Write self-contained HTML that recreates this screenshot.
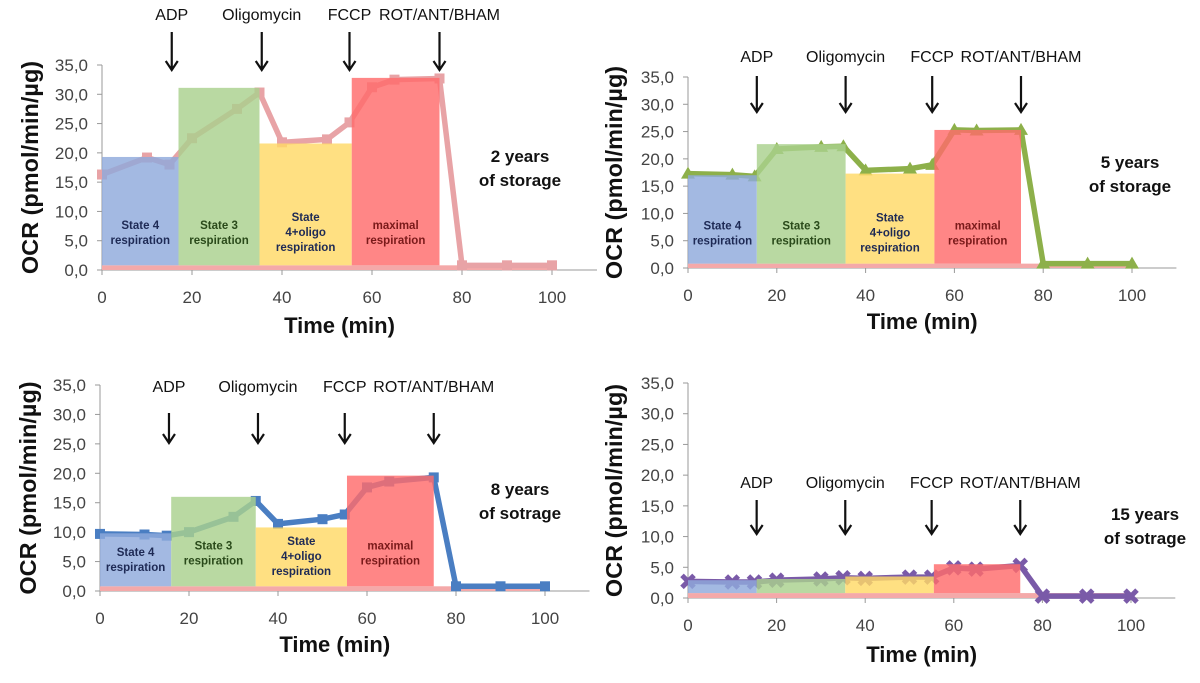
<!DOCTYPE html>
<html><head><meta charset="utf-8"><style>
html,body{margin:0;padding:0;background:#fff;}
svg text{font-family:"Liberation Sans",Arial,sans-serif;}
</style></head><body>
<svg id="fig" width="1200" height="678" viewBox="0 0 1200 678" xmlns="http://www.w3.org/2000/svg"></svg>
<script>
// ---- data ----
const times = [0,10,15,20,30,35,40,50,55,60,65,75,80,90,100];
const ocr2y = [16.3,19.2,18.0,22.5,27.5,30.3,21.8,22.3,25.2,31.2,32.5,32.7,0.8,0.8,0.8];
const ocr5y = [17.3,17.1,16.8,21.8,22.2,22.3,17.9,18.2,18.9,25.3,25.2,25.3,0.8,0.8,0.8];
const ocr8y = [9.7,9.6,9.4,10.0,12.6,15.3,11.4,12.2,13.0,17.6,18.6,19.3,0.8,0.8,0.8];
const ocr15y = [2.7,2.6,2.6,2.9,3.1,3.3,3.2,3.4,3.4,4.9,4.7,5.3,0.3,0.3,0.3];
const boxStarts2y = [0,17,35,55.5], boxEnds2y = [17,35,55.5,75], boxHeights2y = [19.3,31.1,21.6,32.8];
const boxStarts5y = [0,15.5,35.5,55.5], boxEnds5y = [15.5,35.5,55.5,75], boxHeights5y = [17,22.7,17.3,25.3];
const boxStarts8y = [0,16,35,55.5], boxEnds8y = [16,35,55.5,75], boxHeights8y = [9.8,16,10.8,19.6];
const boxStarts15y = [0,15.5,35.5,55.5], boxEnds15y = [15.5,35.5,55.5,75], boxHeights15y = [2.9,3.1,3.5,5.5];
const injectionNames = ["ADP","Oligomycin","FCCP","ROT/ANT/BHAM"];
const injectionTimes = [15.5,35.5,55,75];
const yTicks = [0,5,10,15,20,25,30,35];
const yTickLabels = ["0,0","5,0","10,0","15,0","20,0","25,0","30,0","35,0"];
const xTicks = [0,20,40,60,80,100];
const boxLabels = [["State 4","respiration"],["State 3","respiration"],["State","4+oligo","respiration"],["maximal","respiration"]];

const NS="http://www.w3.org/2000/svg";
const svg=document.getElementById('fig');
function mk(tag,attrs,parent){const e=document.createElementNS(NS,tag);for(const k in attrs)e.setAttribute(k,attrs[k]);(parent||svg).appendChild(e);return e;}
function txt(s,attrs,parent){const e=mk('text',attrs,parent);e.textContent=s;return e;}

const boxColors=["#8faadc","#a9d18e","#ffd966","#ff6b6b"];
const panels=[
 {key:"2y",vals:ocr2y,bs:boxStarts2y,be:boxEnds2y,bh:boxHeights2y,x0:102,x1:552,y0:270,y35:65,color:"#e8a3a6",marker:"sq",
  labelY:20,arrowTop:32,arrowBot:70,showBoxText:true,st:["2 years","of storage"],stx:520,sty:162,axisTitleY:333,ylabX:32},
 {key:"5y",vals:ocr5y,bs:boxStarts5y,be:boxEnds5y,bh:boxHeights5y,x0:688,x1:1132,y0:268,y35:77,color:"#8db04a",marker:"tri",
  labelY:62,arrowTop:76,arrowBot:112,showBoxText:true,st:["5 years","of storage"],stx:1130,sty:168,axisTitleY:329,ylabX:616},
 {key:"8y",vals:ocr8y,bs:boxStarts8y,be:boxEnds8y,bh:boxHeights8y,x0:100,x1:545,y0:591,y35:385,color:"#4a7ec2",marker:"sq",
  labelY:392,arrowTop:413,arrowBot:443,showBoxText:true,st:["8 years","of sotrage"],stx:520,sty:495,axisTitleY:652,ylabX:30},
 {key:"15y",vals:ocr15y,bs:boxStarts15y,be:boxEnds15y,bh:boxHeights15y,x0:688,x1:1131,y0:598,y35:383,color:"#7a5aa8",marker:"x",
  labelY:488,arrowTop:500,arrowBot:534,showBoxText:false,st:["15 years","of sotrage"],stx:1145,sty:520,axisTitleY:662,ylabX:616}
];

panels.forEach(p=>{
 const g=mk('g',{});
 
 
 const X=t=>p.x0+(p.x1-p.x0)*t/100;
 const Y=v=>p.y0-(p.y0-p.y35)*v/35;
 const ax=mk('line',{x1:X(0),y1:p.y35,x2:X(0),y2:p.y0,stroke:'#999','stroke-width':1},g);
 
 const axx=mk('line',{x1:X(0),y1:p.y0,x2:X(110),y2:p.y0,stroke:'#999','stroke-width':1},g);
 
 yTicks.forEach((v,i)=>{
  mk('line',{x1:X(0)-5,y1:Y(v),x2:X(0),y2:Y(v),stroke:'#999'},g);
  const t=txt(yTickLabels[i],{x:X(0)-14,y:Y(v)+6,'text-anchor':'end','font-size':17,fill:'#444'},g);
  
 });
 xTicks.forEach(v=>{
  mk('line',{x1:X(v),y1:p.y0,x2:X(v),y2:p.y0+5,stroke:'#999'},g);
  const t=txt(String(v),{x:X(v),y:p.y0+33,'text-anchor':'middle','font-size':17,fill:'#444'},g);
  
 });
 const band=mk('rect',{x:X(0),y:Y(0.8),width:X(100)-X(0),height:Y(0)-Y(0.8),fill:'#f4a9a9'},g);
 
 const pts=times.map((t,i)=>X(t)+','+Y(p.vals[i])).join(' ');
 const ln=mk('polyline',{points:pts,fill:'none',stroke:p.color,'stroke-width':5.5,'stroke-linejoin':'round'},g);
 
 times.forEach((t,i)=>{
  const cx=X(t),cy=Y(p.vals[i]);let m;
  if(p.marker==='tri') m=mk('polygon',{points:`${cx-7},${cy+5} ${cx+7},${cy+5} ${cx},${cy-7}`,fill:p.color},g);
  else if(p.marker==='x') m=mk('path',{d:`M${cx-6},${cy-6}L${cx+6},${cy+6}M${cx+6},${cy-6}L${cx-6},${cy+6}`,stroke:p.color,'stroke-width':5},g);
  else m=mk('rect',{x:cx-5,y:cy-5,width:10,height:10,fill:p.color},g);
  
 });
 p.bs.forEach((s,i)=>{
  const r=mk('rect',{x:X(s),y:Y(p.bh[i]),width:X(p.be[i])-X(s),height:Y(0.8)-Y(p.bh[i]),fill:boxColors[i],opacity:0.82},g);
  
  if(p.showBoxText){
   const lines=boxLabels[i];const cx=(X(s)+X(p.be[i]))/2;
   const base=(Y(0)+Y(Math.min(p.bh[i],12)))/2+ (lines.length===3?-14:-6);
   const tl=txt('',{x:cx,y:base,'text-anchor':'middle','font-size':11.5,'font-weight':'bold',fill:i===3?'#7a1a1a':(i===1?'#2a4a1a':'#1e2a55')},g);
   
   lines.forEach((l,k)=>{const ts=mk('tspan',{x:cx,dy:k===0?0:15},tl);ts.textContent=l;});
  }
 });
 injectionTimes.forEach((t,i)=>{
  const ax_=X(t);
  const lab=txt(injectionNames[i],{x:ax_,y:p.labelY,'text-anchor':'middle','font-size':16,fill:'#111'},g);
  
  const a=mk('path',{d:`M${ax_},${p.arrowTop}L${ax_},${p.arrowBot}M${ax_-6},${p.arrowBot-9}L${ax_},${p.arrowBot}L${ax_+6},${p.arrowBot-9}`,stroke:'#111','stroke-width':2.2,fill:'none'},g);
  
 });
 const st=txt('',{x:p.stx,y:p.sty,'text-anchor':'middle','font-size':17,'font-weight':'bold',fill:'#111'},g);
 
 p.st.forEach((l,k)=>{const ts=mk('tspan',{x:p.stx,dy:k===0?0:24},st);ts.textContent=l;});
 const xt=txt('Time (min)',{x:(X(0)+X(110))/2-10,y:p.axisTitleY,'text-anchor':'middle','font-size':22,'font-weight':'bold',fill:'#111'},g);
 
 const yc=(p.y0+p.y35)/2;
 const yt=txt('OCR (pmol/min/µg)',{x:p.ylabX,y:yc,transform:`rotate(-90 ${p.ylabX} ${yc})`,'text-anchor':'middle','font-size':23.5,'font-weight':'bold',fill:'#111','dominant-baseline':'middle'},g);
 
});
</script>
</body></html>
